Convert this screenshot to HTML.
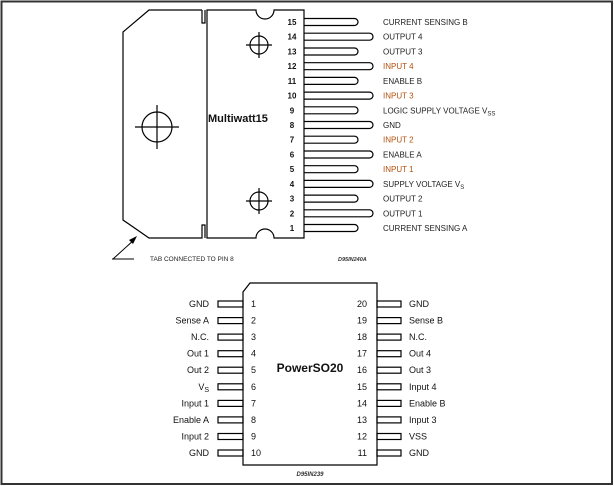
<!DOCTYPE html>
<html><head><meta charset="utf-8"><style>
html,body{margin:0;padding:0;background:#fff;}
svg{display:block;}
text{font-family:"Liberation Sans",Arial,sans-serif;}
.t{font-size:8px;fill:#222;}
.o{font-size:8px;fill:#b4500c;}
.n{font-size:8px;fill:#111;font-weight:bold;}
.b{font-size:9px;fill:#111;}
</style></head><body>
<svg width="614" height="486" viewBox="0 0 614 486" xmlns="http://www.w3.org/2000/svg">
<rect x="1.5" y="1.5" width="610.5" height="482.5" fill="#fff" stroke="#333" stroke-width="2"/>
<g fill="none" stroke="#000" stroke-width="1.2">
<!-- tab -->
<path d="M202,10 H149 L123,32 V220 L149,238 H202 V225 H205 V238 M202,10 V23 H205 V10"/>
<!-- body -->
<path d="M207,10 H256 A9,9 0 0 0 274,10 H304 V238 H274 A9,9 0 0 0 256,238 H207 Z"/>
<circle cx="157" cy="127" r="15"/>
<path d="M135,127 H179 M157,105 V149"/>
<circle cx="259" cy="45" r="9"/>
<path d="M246,45 H272 M259,32 V58"/>
<circle cx="259" cy="201" r="9"/>
<path d="M246,201 H272 M259,188 V214"/>
<!-- pins -->
<path d="M304,224.5 H354.5 a3.5,3.5 0 0 1 0,7 H304"/>
<path d="M304,209.8 H369.5 a3.5,3.5 0 0 1 0,7 H304"/>
<path d="M304,195.1 H354.5 a3.5,3.5 0 0 1 0,7 H304"/>
<path d="M304,180.4 H369.5 a3.5,3.5 0 0 1 0,7 H304"/>
<path d="M304,165.7 H354.5 a3.5,3.5 0 0 1 0,7 H304"/>
<path d="M304,151 H369.5 a3.5,3.5 0 0 1 0,7 H304"/>
<path d="M304,136.2 H354.5 a3.5,3.5 0 0 1 0,7 H304"/>
<path d="M304,121.5 H369.5 a3.5,3.5 0 0 1 0,7 H304"/>
<path d="M304,106.8 H354.5 a3.5,3.5 0 0 1 0,7 H304"/>
<path d="M304,92.1 H369.5 a3.5,3.5 0 0 1 0,7 H304"/>
<path d="M304,77.4 H354.5 a3.5,3.5 0 0 1 0,7 H304"/>
<path d="M304,62.7 H369.5 a3.5,3.5 0 0 1 0,7 H304"/>
<path d="M304,48 H354.5 a3.5,3.5 0 0 1 0,7 H304"/>
<path d="M304,33.2 H369.5 a3.5,3.5 0 0 1 0,7 H304"/>
<path d="M304,18.5 H354.5 a3.5,3.5 0 0 1 0,7 H304"/>
<!-- arrow -->
<path d="M112,259 H134 M113,259 L135,239" stroke-width="1"/>
</g>
<path d="M137,236 L129,240 L133,244 Z" fill="#000"/>
<g text-anchor="middle">
<text class="n" x="292" y="231">1</text><text class="n" x="292" y="216.3">2</text><text class="n" x="292" y="201.6">3</text><text class="n" x="292" y="186.9">4</text><text class="n" x="292" y="172.2">5</text><text class="n" x="292" y="157.5">6</text><text class="n" x="292" y="142.7">7</text><text class="n" x="292" y="128">8</text><text class="n" x="292" y="113.3">9</text><text class="n" x="292" y="98.6">10</text><text class="n" x="292" y="83.9">11</text><text class="n" x="292" y="69.2">12</text><text class="n" x="292" y="54.5">13</text><text class="n" x="292" y="39.7">14</text><text class="n" x="292" y="25">15</text>
</g>
<text class="t" x="383" y="231">CURRENT SENSING A</text>
<text class="t" x="383" y="216.3">OUTPUT 1</text>
<text class="t" x="383" y="201.6">OUTPUT 2</text>
<text class="t" x="383" y="186.9">SUPPLY VOLTAGE V<tspan font-size="6" dy="2">S</tspan></text>
<text class="o" x="383" y="172.2">INPUT 1</text>
<text class="t" x="383" y="157.5">ENABLE A</text>
<text class="o" x="383" y="142.7">INPUT 2</text>
<text class="t" x="383" y="128">GND</text>
<text class="t" x="383" y="113.3">LOGIC SUPPLY VOLTAGE V<tspan font-size="6" dy="2">SS</tspan></text>
<text class="o" x="383" y="98.6">INPUT 3</text>
<text class="t" x="383" y="83.9">ENABLE B</text>
<text class="o" x="383" y="69.2">INPUT 4</text>
<text class="t" x="383" y="54.5">OUTPUT 3</text>
<text class="t" x="383" y="39.7">OUTPUT 4</text>
<text class="t" x="383" y="25">CURRENT SENSING B</text>
<text x="208" y="122" font-size="11" font-weight="bold" fill="#111">Multiwatt15</text>
<text x="150" y="261" font-size="6.5" fill="#222">TAB CONNECTED TO PIN 8</text>
<text x="338" y="261" font-size="5.5" font-style="italic" font-weight="bold" fill="#333">D95IN240A</text>

<!-- PowerSO20 -->
<g fill="none" stroke="#000" stroke-width="1.2">
<path d="M250,283 H377 V465 H243 V292 Z"/>
<rect x="218" y="301" width="25" height="6"/><rect x="218" y="317.6" width="25" height="6"/><rect x="218" y="334.1" width="25" height="6"/><rect x="218" y="350.7" width="25" height="6"/><rect x="218" y="367.2" width="25" height="6"/><rect x="218" y="383.8" width="25" height="6"/><rect x="218" y="400.4" width="25" height="6"/><rect x="218" y="416.9" width="25" height="6"/><rect x="218" y="433.5" width="25" height="6"/><rect x="218" y="450" width="25" height="6"/>
<rect x="377" y="301" width="24" height="6"/><rect x="377" y="317.6" width="24" height="6"/><rect x="377" y="334.1" width="24" height="6"/><rect x="377" y="350.7" width="24" height="6"/><rect x="377" y="367.2" width="24" height="6"/><rect x="377" y="383.8" width="24" height="6"/><rect x="377" y="400.4" width="24" height="6"/><rect x="377" y="416.9" width="24" height="6"/><rect x="377" y="433.5" width="24" height="6"/><rect x="377" y="450" width="24" height="6"/>
</g>
<g class="b" text-anchor="end">
<text class="b" x="209" y="307">GND</text><text class="b" x="209" y="323.6">Sense A</text><text class="b" x="209" y="340.1">N.C.</text><text class="b" x="209" y="356.7">Out 1</text><text class="b" x="209" y="373.2">Out 2</text><text class="b" x="209" y="389.8">V<tspan font-size="7" dy="2">S</tspan></text><text class="b" x="209" y="406.4">Input 1</text><text class="b" x="209" y="422.9">Enable A</text><text class="b" x="209" y="439.5">Input 2</text><text class="b" x="209" y="456">GND</text>
<text class="b" x="367" y="307">20</text><text class="b" x="367" y="323.6">19</text><text class="b" x="367" y="340.1">18</text><text class="b" x="367" y="356.7">17</text><text class="b" x="367" y="373.2">16</text><text class="b" x="367" y="389.8">15</text><text class="b" x="367" y="406.4">14</text><text class="b" x="367" y="422.9">13</text><text class="b" x="367" y="439.5">12</text><text class="b" x="367" y="456">11</text>
</g>
<g>
<text class="b" x="251" y="307">1</text><text class="b" x="251" y="323.6">2</text><text class="b" x="251" y="340.1">3</text><text class="b" x="251" y="356.7">4</text><text class="b" x="251" y="373.2">5</text><text class="b" x="251" y="389.8">6</text><text class="b" x="251" y="406.4">7</text><text class="b" x="251" y="422.9">8</text><text class="b" x="251" y="439.5">9</text><text class="b" x="251" y="456">10</text>
<text class="b" x="409" y="307">GND</text><text class="b" x="409" y="323.6">Sense B</text><text class="b" x="409" y="340.1">N.C.</text><text class="b" x="409" y="356.7">Out 4</text><text class="b" x="409" y="373.2">Out 3</text><text class="b" x="409" y="389.8">Input 4</text><text class="b" x="409" y="406.4">Enable B</text><text class="b" x="409" y="422.9">Input 3</text><text class="b" x="409" y="439.5">VSS</text><text class="b" x="409" y="456">GND</text>
</g>
<text x="310" y="372" font-size="12" font-weight="bold" fill="#111" text-anchor="middle">PowerSO20</text>
<text x="310" y="476" font-size="6" font-style="italic" font-weight="bold" fill="#333" text-anchor="middle">D95IN239</text>
</svg>
</body></html>
